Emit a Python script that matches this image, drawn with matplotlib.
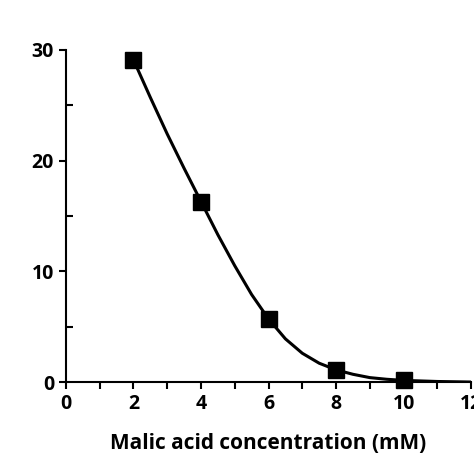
import matplotlib.pyplot as plt
from matplotlib.ticker import MultipleLocator

plt.rcParams['font.family'] = ['Open Sans', 'DejaVu Sans']

conc = [2, 4, 6, 8, 10]
value = [29.1, 16.3, 5.7, 1.1, 0.15]

# smooth trend line
curve_x = [2, 2.5, 3, 3.5, 4, 4.5, 5, 5.5, 6, 6.5, 7, 7.5, 8, 8.5, 9, 9.5, 10, 11, 12]
curve_y = [29.1, 25.7, 22.4, 19.3, 16.3, 13.3, 10.5, 7.9, 5.7, 3.9, 2.6, 1.7, 1.1, 0.7, 0.4, 0.25, 0.15, 0.05, 0.0]

fig = plt.figure(figsize=(4.74, 4.74), dpi=100)
ax = fig.add_axes([0.139, 0.194, 0.855, 0.701])
ax.plot(curve_x, curve_y, color='black', lw=2.2, zorder=2)
ax.plot(conc, value, 's', color='black', ms=11, zorder=3, clip_on=False)

ax.set_xlim(0, 12)
ax.set_ylim(0, 30)
ax.xaxis.set_major_locator(MultipleLocator(2))
ax.yaxis.set_major_locator(MultipleLocator(10))
ax.yaxis.set_minor_locator(MultipleLocator(5))
ax.xaxis.set_minor_locator(MultipleLocator(1))
ax.tick_params(which='major', direction='out', length=5, width=1.5, labelsize=14)
ax.tick_params(axis='x', which='minor', direction='out', length=5, width=1.5)
ax.tick_params(axis='y', which='minor', direction='in', length=5, width=1.5)
for lab in ax.get_xticklabels() + ax.get_yticklabels():
    lab.set_fontweight('bold')
for s in ['top', 'right']:
    ax.spines[s].set_visible(False)
for s in ['left', 'bottom']:
    ax.spines[s].set_linewidth(1.5)
ax.set_xlabel('Malic acid concentration (mM)', fontsize=15, fontweight='bold', labelpad=14)

fig.savefig('out.png', dpi=100)
